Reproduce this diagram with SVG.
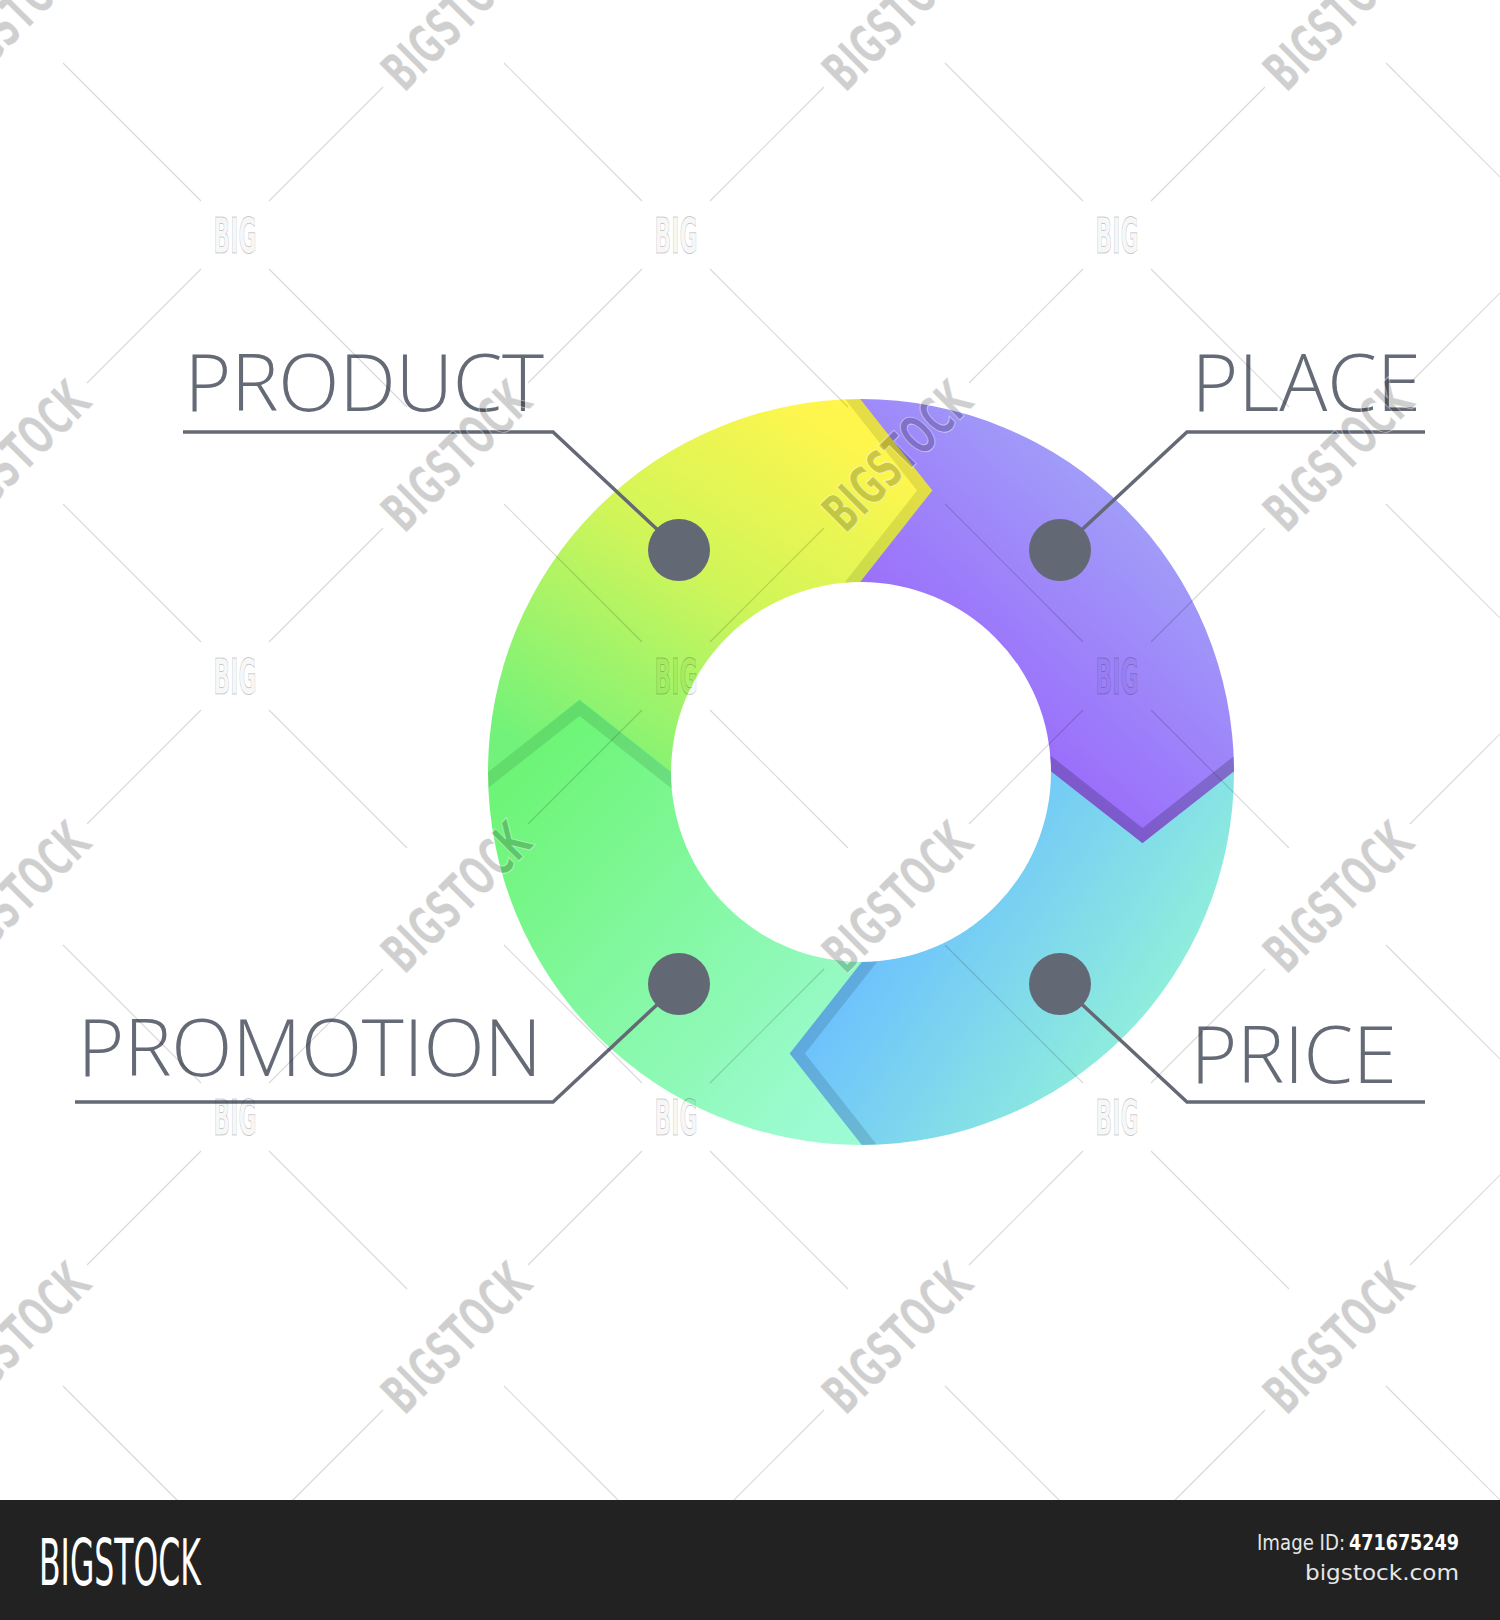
<svg xmlns="http://www.w3.org/2000/svg" xmlns:xlink="http://www.w3.org/1999/xlink" width="1500" height="1620" viewBox="0 0 1500 1620">
<style>
.lbl{font-family:"Open Sans","Noto Sans","Liberation Sans",sans-serif;font-weight:300;font-size:80px;fill:#656a77}
.lead{fill:none;stroke:#646975;stroke-width:3.5;stroke-linejoin:miter}
.dot{fill:#636875}
.wl{stroke:#000;stroke-opacity:0.15;stroke-width:1.2}
.wm1{font-family:"Liberation Sans Narrow","DejaVu Sans Condensed","Liberation Sans",sans-serif;font-weight:bold;font-size:54px;fill:#000;fill-opacity:0.2;stroke:#fff;stroke-opacity:0.5;stroke-width:1}
.wm2{font-family:"Liberation Sans Narrow","DejaVu Sans Condensed","Liberation Sans",sans-serif;font-weight:bold;font-size:50px;fill:#000;fill-opacity:0.05;stroke:#000;stroke-opacity:0.22;stroke-width:1}
.ft{font-family:"Liberation Sans Narrow","DejaVu Sans Condensed","Liberation Sans",sans-serif;fill:#e6e6e6}
</style>
<defs>
<clipPath id="ring"><path clip-rule="evenodd" d="M488,772 A373,373 0 1 0 1234,772 A373,373 0 1 0 488,772 Z M671,772 A190,190 0 1 0 1051,772 A190,190 0 1 0 671,772 Z"/></clipPath>
<linearGradient id="gY" gradientUnits="userSpaceOnUse" x1="800" y1="400" x2="560" y2="770"><stop offset="0" stop-color="#fff64d"/><stop offset="0.45" stop-color="#d0f559"/><stop offset="1" stop-color="#72f27a"/></linearGradient>
<linearGradient id="gP" gradientUnits="userSpaceOnUse" x1="1200" y1="520" x2="1000" y2="740"><stop offset="0" stop-color="#a2a4f8"/><stop offset="1" stop-color="#9a6bfb"/></linearGradient>
<linearGradient id="gB" gradientUnits="userSpaceOnUse" x1="880" y1="920" x2="1160" y2="1110"><stop offset="0" stop-color="#6cc0fe"/><stop offset="1" stop-color="#97f8d4"/></linearGradient>
<linearGradient id="gG" gradientUnits="userSpaceOnUse" x1="500" y1="800" x2="840" y2="1110"><stop offset="0" stop-color="#6ef577"/><stop offset="1" stop-color="#9dfbd4"/></linearGradient>
<g id="wx">
<line class="wl" x1="-34" y1="-34" x2="-172" y2="-172"/>
<line class="wl" x1="34" y1="34" x2="172" y2="172"/>
<line class="wl" x1="34" y1="-34" x2="148" y2="-148"/>
<line class="wl" x1="-34" y1="34" x2="-148" y2="148"/>
</g>
</defs>
<rect width="1500" height="1620" fill="#ffffff"/>

<g id="node-product">
<g clip-path="url(#ring)">
<polygon points="400,772 488,772 579.5,700 671,772 861,772 861,582 933,490.5 861,399 861,300 400,300" fill="url(#gY)" stroke="url(#gY)" stroke-width="1.2"/>
<polygon points="861,390 861,399 933,490.5 861,582 861,592 845,592 845,582 917,490.5 845,399 845,390" fill="#000" fill-opacity="0.1"/>
</g>
<circle class="dot" cx="679" cy="550" r="31"/>
<text class="lbl" x="184.5" y="411" textLength="359.5">PRODUCT</text>
</g>

<g id="node-place">
<g clip-path="url(#ring)">
<polygon points="861,300 861,399 933,490.5 861,582 861,772 1051,772 1142.5,844 1234,772 1320,772 1320,300" fill="url(#gP)" stroke="url(#gP)" stroke-width="1.2"/>
<polygon points="1244,772 1234,772 1142.5,844 1051,772 1041,772 1041,756 1051,756 1142.5,828 1234,756 1244,756" fill="#000" fill-opacity="0.19"/>
</g>
<circle class="dot" cx="1060" cy="550" r="31"/>
<text class="lbl" x="1191.5" y="411" textLength="229.5">PLACE</text>
</g>

<g id="node-price">
<g clip-path="url(#ring)">
<polygon points="1320,772 1234,772 1142.5,844 1051,772 861,772 861,962 789,1053.5 861,1145 861,1240 1320,1240" fill="url(#gB)" stroke="url(#gB)" stroke-width="1.2"/>
<polygon points="861,952 861,962 789,1053.5 861,1145 861,1155 877,1155 877,1145 805,1053.5 877,962 877,952" fill="#000" fill-opacity="0.12"/>
</g>
<circle class="dot" cx="1060" cy="984" r="31"/>
<text class="lbl" x="1190.5" y="1083" textLength="206.5">PRICE</text>
</g>

<g id="node-promotion">
<g clip-path="url(#ring)">
<polygon points="861,1240 861,1145 789,1053.5 861,962 861,772 671,772 579.5,700 488,772 400,772 400,1240" fill="url(#gG)" stroke="url(#gG)" stroke-width="1.2"/>
<polygon points="478,772 488,772 579.5,700 671,772 681,772 681,788 671,788 579.5,716 488,788 478,788" fill="#000" fill-opacity="0.1"/>
</g>
<circle class="dot" cx="679" cy="984" r="31"/>
<text class="lbl" x="77.5" y="1076" textLength="464.5">PROMOTION</text>
</g>

<g id="connectors">
<polyline class="lead" points="183,432 553,432 658.6,530.8"/>
<polyline class="lead" points="1425,432 1187,432 1080.5,531"/>
<polyline class="lead" points="75,1102 553,1102 658.6,1003.2"/>
<polyline class="lead" points="1425,1102 1187,1102 1080.5,1003"/>
</g>

<g id="watermark">
<use xlink:href="#wx" x="235" y="235"/><use xlink:href="#wx" x="676" y="235"/><use xlink:href="#wx" x="1117" y="235"/><use xlink:href="#wx" x="1558" y="235"/>
<use xlink:href="#wx" x="235" y="676"/><use xlink:href="#wx" x="676" y="676"/><use xlink:href="#wx" x="1117" y="676"/><use xlink:href="#wx" x="1558" y="676"/>
<use xlink:href="#wx" x="235" y="1117"/><use xlink:href="#wx" x="676" y="1117"/><use xlink:href="#wx" x="1117" y="1117"/><use xlink:href="#wx" x="1558" y="1117"/>
<use xlink:href="#wx" x="235" y="1558"/><use xlink:href="#wx" x="676" y="1558"/><use xlink:href="#wx" x="1117" y="1558"/><use xlink:href="#wx" x="1558" y="1558"/>
<text class="wm2" x="235" y="253" text-anchor="middle" textLength="43" lengthAdjust="spacingAndGlyphs">BIG</text>
<text class="wm2" x="676" y="253" text-anchor="middle" textLength="43" lengthAdjust="spacingAndGlyphs">BIG</text>
<text class="wm2" x="1117" y="253" text-anchor="middle" textLength="43" lengthAdjust="spacingAndGlyphs">BIG</text>
<text class="wm2" x="235" y="694" text-anchor="middle" textLength="43" lengthAdjust="spacingAndGlyphs">BIG</text>
<text class="wm2" x="676" y="694" text-anchor="middle" textLength="43" lengthAdjust="spacingAndGlyphs">BIG</text>
<text class="wm2" x="1117" y="694" text-anchor="middle" textLength="43" lengthAdjust="spacingAndGlyphs">BIG</text>
<text class="wm2" x="235" y="1135" text-anchor="middle" textLength="43" lengthAdjust="spacingAndGlyphs">BIG</text>
<text class="wm2" x="676" y="1135" text-anchor="middle" textLength="43" lengthAdjust="spacingAndGlyphs">BIG</text>
<text class="wm2" x="1117" y="1135" text-anchor="middle" textLength="43" lengthAdjust="spacingAndGlyphs">BIG</text>
<text class="wm1" transform="translate(15,15) rotate(-45)" y="19" text-anchor="middle" textLength="184" lengthAdjust="spacingAndGlyphs">BIGSTOCK</text>
<text class="wm1" transform="translate(456,15) rotate(-45)" y="19" text-anchor="middle" textLength="184" lengthAdjust="spacingAndGlyphs">BIGSTOCK</text>
<text class="wm1" transform="translate(897,15) rotate(-45)" y="19" text-anchor="middle" textLength="184" lengthAdjust="spacingAndGlyphs">BIGSTOCK</text>
<text class="wm1" transform="translate(1338,15) rotate(-45)" y="19" text-anchor="middle" textLength="184" lengthAdjust="spacingAndGlyphs">BIGSTOCK</text>
<text class="wm1" transform="translate(15,456) rotate(-45)" y="19" text-anchor="middle" textLength="184" lengthAdjust="spacingAndGlyphs">BIGSTOCK</text>
<text class="wm1" transform="translate(456,456) rotate(-45)" y="19" text-anchor="middle" textLength="184" lengthAdjust="spacingAndGlyphs">BIGSTOCK</text>
<text class="wm1" transform="translate(897,456) rotate(-45)" y="19" text-anchor="middle" textLength="184" lengthAdjust="spacingAndGlyphs">BIGSTOCK</text>
<text class="wm1" transform="translate(1338,456) rotate(-45)" y="19" text-anchor="middle" textLength="184" lengthAdjust="spacingAndGlyphs">BIGSTOCK</text>
<text class="wm1" transform="translate(15,897) rotate(-45)" y="19" text-anchor="middle" textLength="184" lengthAdjust="spacingAndGlyphs">BIGSTOCK</text>
<text class="wm1" transform="translate(456,897) rotate(-45)" y="19" text-anchor="middle" textLength="184" lengthAdjust="spacingAndGlyphs">BIGSTOCK</text>
<text class="wm1" transform="translate(897,897) rotate(-45)" y="19" text-anchor="middle" textLength="184" lengthAdjust="spacingAndGlyphs">BIGSTOCK</text>
<text class="wm1" transform="translate(1338,897) rotate(-45)" y="19" text-anchor="middle" textLength="184" lengthAdjust="spacingAndGlyphs">BIGSTOCK</text>
<text class="wm1" transform="translate(15,1338) rotate(-45)" y="19" text-anchor="middle" textLength="184" lengthAdjust="spacingAndGlyphs">BIGSTOCK</text>
<text class="wm1" transform="translate(456,1338) rotate(-45)" y="19" text-anchor="middle" textLength="184" lengthAdjust="spacingAndGlyphs">BIGSTOCK</text>
<text class="wm1" transform="translate(897,1338) rotate(-45)" y="19" text-anchor="middle" textLength="184" lengthAdjust="spacingAndGlyphs">BIGSTOCK</text>
<text class="wm1" transform="translate(1338,1338) rotate(-45)" y="19" text-anchor="middle" textLength="184" lengthAdjust="spacingAndGlyphs">BIGSTOCK</text>
</g>

<g id="footer">
<rect x="0" y="1500" width="1500" height="120" fill="#222222"/>
<text class="ft" x="39" y="1585" font-size="64" style="fill:#ffffff" textLength="162" lengthAdjust="spacingAndGlyphs">BIGSTOCK</text>
<text class="ft" x="1257" y="1550" font-size="22" textLength="88" lengthAdjust="spacingAndGlyphs">Image ID:</text>
<text class="ft" x="1349" y="1550" font-size="22" font-weight="bold" style="fill:#ffffff" textLength="110" lengthAdjust="spacingAndGlyphs">471675249</text>
<text class="ft" x="1459" y="1580" font-size="22" text-anchor="end" textLength="154" lengthAdjust="spacingAndGlyphs">bigstock.com</text>
</g>
</svg>
